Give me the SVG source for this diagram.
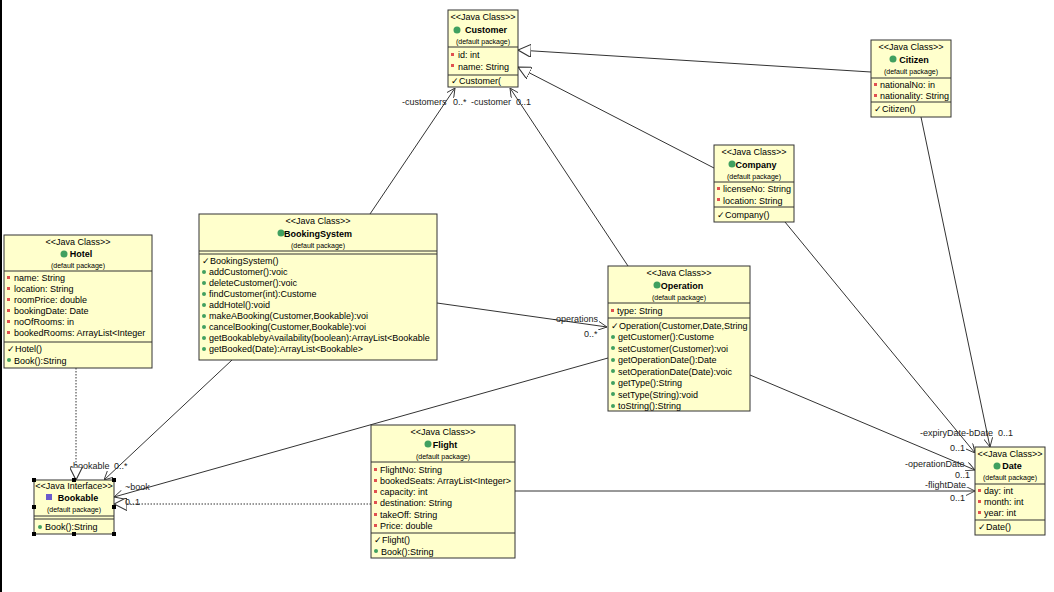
<svg xmlns="http://www.w3.org/2000/svg" width="1054" height="592" viewBox="0 0 1054 592">
<defs>
<style>
text{font-family:"Liberation Sans",Arial,sans-serif;font-size:9px;fill:#000}
.st{text-anchor:middle}
.nm{text-anchor:middle;font-weight:bold}
.pk{text-anchor:middle;font-size:7px}
.box{fill:#ffffcc;stroke:#333;stroke-width:1}
.sep{stroke:#333;stroke-width:1}
.c{stroke:#333;stroke-width:1;fill:none}
.d{stroke:#333;stroke-width:1;fill:none;stroke-dasharray:1.5,1.5}
.lb{font-size:9px;fill:#222}
.pa{fill:#e05050}
.pu{fill:#40a060}
.ic{fill:#40a060}
.h{fill:#000}
</style>
<marker id="a" viewBox="0 0 10 10" refX="10" refY="5" markerWidth="9" markerHeight="9" orient="auto" markerUnits="userSpaceOnUse"><path d="M0,0 L10,5 L0,10" fill="none" stroke="#333"/></marker>
<marker id="t" viewBox="0 0 12 12" refX="12" refY="6" markerWidth="13" markerHeight="13" orient="auto" markerUnits="userSpaceOnUse"><path d="M0,0 L12,6 L0,12 Z" fill="#fff" stroke="#333"/></marker>
</defs>
<rect width="1054" height="592" fill="#fff"/>
<line x1="1" y1="0" x2="1" y2="592" stroke="#000" stroke-width="2"/>

<g id="connectors">
<path class="c" d="M370,214 L455,88" marker-end="url(#a)"/>
<text class="lb" x="402" y="105">-customers</text><text class="lb" x="453" y="105">0..*</text>
<path class="c" d="M628,266 L510,88" marker-end="url(#a)"/>
<text class="lb" x="471" y="105">-customer</text><text class="lb" x="516" y="105">0..1</text>
<path class="c" d="M871,72 L518,50" marker-end="url(#t)"/>
<path class="c" d="M714,168 L518,67" marker-end="url(#t)"/>
<path class="c" d="M437,303 L607,327" marker-end="url(#a)"/>
<text class="lb" x="553" y="322">-operations</text><text class="lb" x="584" y="337">0..*</text>
<path class="c" d="M232,360 L104,480" marker-end="url(#a)"/>
<text class="lb" x="70" y="469">-bookable</text><text class="lb" x="114" y="469">0..*</text>
<path class="d" d="M76,368 L76,480" marker-end="url(#t)"/>
<path class="c" d="M608,358 L114,497" marker-end="url(#a)"/>
<text class="lb" x="125" y="490">~book</text>
<path class="d" d="M371,504 L114,504" marker-end="url(#t)"/>
<text class="lb" x="125" y="505">0..1</text>
<path class="c" d="M921,117 L990,447" marker-end="url(#a)"/>
<text class="lb" x="966" y="436">-bDate</text><text class="lb" x="998" y="436">0..1</text>
<path class="c" d="M785,222 L975,453" marker-end="url(#a)"/>
<text class="lb" x="920" y="436">-expiryDate</text><text class="lb" x="950" y="451">0..1</text>
<path class="c" d="M750,375 L975,470" marker-end="url(#a)"/>
<text class="lb" x="905" y="467">-operationDate</text><text class="lb" x="955" y="478">0..1</text>
<path class="c" d="M515,491 L975,491" marker-end="url(#a)"/>
<text class="lb" x="925" y="488">-flightDate</text><text class="lb" x="950" y="501">0..1</text>
</g>

<g id="Customer">
<rect class="box" x="448" y="10" width="70" height="77"/>
<text class="st" x="483" y="20">&lt;&lt;Java Class&gt;&gt;</text>
<circle class="ic" cx="457" cy="30" r="3.5"/><text class="nm" x="486" y="33">Customer</text>
<text class="pk" x="483" y="44">(default package)</text>
<line class="sep" x1="448" y1="47" x2="518" y2="47"/>
<rect class="pa" x="451" y="53" width="3" height="3"/><text x="458" y="58">id: int</text>
<rect class="pa" x="451" y="64" width="3" height="3"/><text x="458" y="70">name: String</text>
<line class="sep" x1="448" y1="75" x2="518" y2="75"/>
<text x="451" y="84">✓Customer(</text>
</g>

<g id="Citizen">
<rect class="box" x="871" y="40" width="80" height="77"/>
<text class="st" x="911" y="50">&lt;&lt;Java Class&gt;&gt;</text>
<circle class="ic" cx="893" cy="59" r="3.5"/><text class="nm" x="914" y="63">Citizen</text>
<text class="pk" x="911" y="74">(default package)</text>
<line class="sep" x1="871" y1="78" x2="951" y2="78"/>
<rect class="pa" x="874" y="83" width="3" height="3"/><text x="880" y="88">nationalNo: in</text>
<rect class="pa" x="874" y="94" width="3" height="3"/><text x="880" y="99">nationality: String</text>
<line class="sep" x1="871" y1="102" x2="951" y2="102"/>
<text x="874" y="112">✓Citizen()</text>
</g>

<g id="Company">
<rect class="box" x="714" y="145" width="80" height="77"/>
<text class="st" x="754" y="155">&lt;&lt;Java Class&gt;&gt;</text>
<circle class="ic" cx="732" cy="164" r="3.5"/><text class="nm" x="756" y="168">Company</text>
<text class="pk" x="754" y="179">(default package)</text>
<line class="sep" x1="714" y1="182" x2="794" y2="182"/>
<rect class="pa" x="717" y="187" width="3" height="3"/><text x="723" y="192">licenseNo: String</text>
<rect class="pa" x="717" y="198" width="3" height="3"/><text x="723" y="204">location: String</text>
<line class="sep" x1="714" y1="207" x2="794" y2="207"/>
<text x="717" y="218">✓Company()</text>
</g>

<g id="BookingSystem">
<rect class="box" x="199" y="214" width="238" height="146"/>
<text class="st" x="318" y="224">&lt;&lt;Java Class&gt;&gt;</text>
<circle class="ic" cx="281" cy="233" r="3.5"/><text class="nm" x="318" y="237">BookingSystem</text>
<text class="pk" x="318" y="248">(default package)</text>
<line class="sep" x1="199" y1="251" x2="437" y2="251"/>
<line class="sep" x1="199" y1="254" x2="437" y2="254"/>
<text x="202" y="264">✓BookingSystem()</text>
<g>
<circle class="pu" cx="204" cy="272" r="2"/><text x="209" y="275">addCustomer():voic</text>
<circle class="pu" cx="204" cy="283" r="2"/><text x="209" y="286">deleteCustomer():voic</text>
<circle class="pu" cx="204" cy="294" r="2"/><text x="209" y="297">findCustomer(int):Custome</text>
<circle class="pu" cx="204" cy="305" r="2"/><text x="209" y="308">addHotel():void</text>
<circle class="pu" cx="204" cy="316" r="2"/><text x="209" y="319">makeABooking(Customer,Bookable):voi</text>
<circle class="pu" cx="204" cy="327" r="2"/><text x="209" y="330">cancelBooking(Customer,Bookable):voi</text>
<circle class="pu" cx="204" cy="338" r="2"/><text x="209" y="341">getBookablebyAvailability(boolean):ArrayList&lt;Bookable</text>
<circle class="pu" cx="204" cy="349" r="2"/><text x="209" y="352">getBooked(Date):ArrayList&lt;Bookable&gt;</text>
</g>
</g>

<g id="Hotel">
<rect class="box" x="4" y="235" width="148" height="133"/>
<text class="st" x="78" y="245">&lt;&lt;Java Class&gt;&gt;</text>
<circle class="ic" cx="64" cy="254" r="3.5"/><text class="nm" x="81" y="257">Hotel</text>
<text class="pk" x="78" y="268">(default package)</text>
<line class="sep" x1="4" y1="271" x2="152" y2="271"/>
<rect class="pa" x="7" y="276" width="3" height="3"/><text x="14" y="281">name: String</text>
<rect class="pa" x="7" y="287" width="3" height="3"/><text x="14" y="292">location: String</text>
<rect class="pa" x="7" y="298" width="3" height="3"/><text x="14" y="303">roomPrice: double</text>
<rect class="pa" x="7" y="309" width="3" height="3"/><text x="14" y="314">bookingDate: Date</text>
<rect class="pa" x="7" y="320" width="3" height="3"/><text x="14" y="325">noOfRooms: in</text>
<rect class="pa" x="7" y="331" width="3" height="3"/><text x="14" y="336">bookedRooms: ArrayList&lt;Integer</text>
<line class="sep" x1="4" y1="342" x2="152" y2="342"/>
<text x="7" y="352">✓Hotel()</text>
<circle class="pu" cx="9" cy="360" r="2"/><text x="14" y="364">Book():String</text>
</g>

<g id="Operation">
<rect class="box" x="608" y="266" width="142" height="145"/>
<text class="st" x="679" y="276">&lt;&lt;Java Class&gt;&gt;</text>
<circle class="ic" cx="657" cy="285" r="3.5"/><text class="nm" x="682" y="289">Operation</text>
<text class="pk" x="679" y="300">(default package)</text>
<line class="sep" x1="608" y1="303" x2="750" y2="303"/>
<rect class="pa" x="611" y="309" width="3" height="3"/><text x="617" y="314">type: String</text>
<line class="sep" x1="608" y1="318" x2="750" y2="318"/>
<text x="611" y="329">✓Operation(Customer,Date,String</text>
<circle class="pu" cx="613" cy="337" r="2"/><text x="618" y="340">getCustomer():Custome</text>
<circle class="pu" cx="613" cy="348" r="2"/><text x="618" y="352">setCustomer(Customer):voi</text>
<circle class="pu" cx="613" cy="360" r="2"/><text x="618" y="363">getOperationDate():Date</text>
<circle class="pu" cx="613" cy="371" r="2"/><text x="618" y="375">setOperationDate(Date):voic</text>
<circle class="pu" cx="613" cy="383" r="2"/><text x="618" y="386">getType():String</text>
<circle class="pu" cx="613" cy="394" r="2"/><text x="618" y="398">setType(String):void</text>
<circle class="pu" cx="613" cy="406" r="2"/><text x="618" y="409">toString():String</text>
</g>

<g id="Flight">
<rect class="box" x="371" y="425" width="144" height="133"/>
<text class="st" x="443" y="435">&lt;&lt;Java Class&gt;&gt;</text>
<circle class="ic" cx="428" cy="444" r="3.5"/><text class="nm" x="445" y="448">Flight</text>
<text class="pk" x="443" y="459">(default package)</text>
<line class="sep" x1="371" y1="462" x2="515" y2="462"/>
<rect class="pa" x="374" y="468" width="3" height="3"/><text x="380" y="473">FlightNo: String</text>
<rect class="pa" x="374" y="479" width="3" height="3"/><text x="380" y="484">bookedSeats: ArrayList&lt;Integer&gt;</text>
<rect class="pa" x="374" y="490" width="3" height="3"/><text x="380" y="495">capacity: int</text>
<rect class="pa" x="374" y="501" width="3" height="3"/><text x="380" y="506">destination: String</text>
<rect class="pa" x="374" y="513" width="3" height="3"/><text x="380" y="518">takeOff: String</text>
<rect class="pa" x="374" y="524" width="3" height="3"/><text x="380" y="529">Price: double</text>
<line class="sep" x1="371" y1="533" x2="515" y2="533"/>
<text x="374" y="543">✓Flight()</text>
<circle class="pu" cx="376" cy="551" r="2"/><text x="381" y="555">Book():String</text>
</g>

<g id="Bookable">
<rect class="box" x="34" y="480" width="80" height="54"/>
<text class="st" x="74" y="489">&lt;&lt;Java Interface&gt;&gt;</text>
<rect x="46" y="494" width="6" height="6" fill="#6a5acd"/><text class="nm" x="78" y="501">Bookable</text>
<text class="pk" x="74" y="512">(default package)</text>
<line class="sep" x1="34" y1="516" x2="114" y2="516"/>
<line class="sep" x1="34" y1="519" x2="114" y2="519"/>
<circle class="pu" cx="40" cy="527" r="2"/><text x="45" y="530">Book():String</text>
<rect class="h" x="32" y="478" width="4" height="4"/><rect class="h" x="72" y="478" width="4" height="4"/><rect class="h" x="112" y="478" width="4" height="4"/>
<rect class="h" x="32" y="505" width="4" height="4"/><rect class="h" x="112" y="505" width="4" height="4"/>
<rect class="h" x="32" y="532" width="4" height="4"/><rect class="h" x="72" y="532" width="4" height="4"/><rect class="h" x="112" y="532" width="4" height="4"/>
</g>

<g id="Date">
<rect class="box" x="975" y="447" width="70" height="88"/>
<text class="st" x="1010" y="457">&lt;&lt;Java Class&gt;&gt;</text>
<circle class="ic" cx="997" cy="466" r="3.5"/><text class="nm" x="1012" y="469">Date</text>
<text class="pk" x="1010" y="480">(default package)</text>
<line class="sep" x1="975" y1="484" x2="1045" y2="484"/>
<rect class="pa" x="978" y="489" width="3" height="3"/><text x="984" y="494">day: int</text>
<rect class="pa" x="978" y="500" width="3" height="3"/><text x="984" y="505">month: int</text>
<rect class="pa" x="978" y="511" width="3" height="3"/><text x="984" y="516">year: int</text>
<line class="sep" x1="975" y1="520" x2="1045" y2="520"/>
<text x="978" y="530">✓Date()</text>
</g>
</svg>
